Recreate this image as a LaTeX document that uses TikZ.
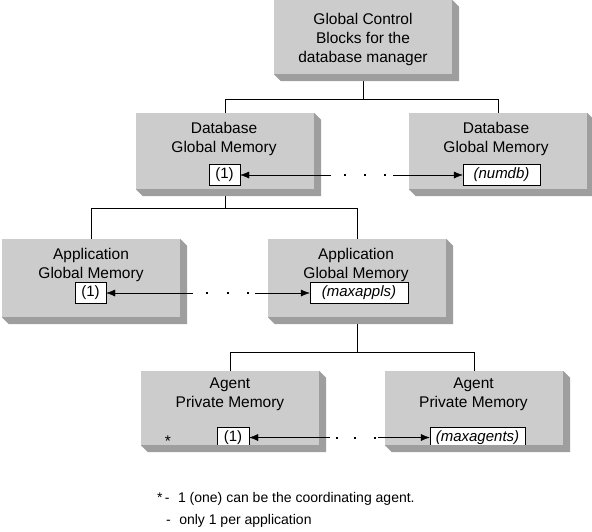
\documentclass[tikz,border=0pt]{standalone}
\usepackage{fontspec}
\setmainfont{Liberation Sans}
\usetikzlibrary{arrows.meta}
\begin{document}
\begin{tikzpicture}[x=1pt,y=-1pt,
    memblock/.style={shape=rectangle,fill=black!20,minimum width=178pt,minimum height=76pt,inner sep=0pt},
    memtext/.style={align=center,inner sep=0pt,font=\fontsize{15.5}{19}\selectfont},
    countbox/.style={shape=rectangle,draw=black,fill=white,minimum height=21pt,inner sep=1pt,font=\fontsize{15}{18}\selectfont},
    bevel/.style={fill=black!38},
    link/.style={-{Latex[length=9pt,width=7pt]}},
  ]
  \useasboundingbox (0,0) rectangle (592,531);

  \node[memblock,minimum height=74pt] (gcb) at (363,37) {};
  \node[memtext] (gcbt) at (363,39) {Global Control\\Blocks for the\\database manager};

  \node[memblock] (db1) at (225,151) {};
  \node[memtext] (db1t) at (224,139) {Database\\Global Memory};
  \node[countbox,minimum width=31pt] (db1n) at (224.5,175) {(1)};
  \node[memblock] (db2) at (498,151) {};
  \node[memtext] (db2t) at (496,139) {Database\\Global Memory};
  \node[countbox,minimum width=77pt] (db2n) at (501.5,175) {\itshape (numdb)};

  \node[memblock,minimum height=78pt] (app1) at (91,278) {};
  \node[memtext] (app1t) at (91,265) {Application\\Global Memory};
  \node[countbox,minimum width=31pt] (app1n) at (90.5,293) {(1)};
  \node[memblock,minimum height=78pt] (app2) at (357,278) {};
  \node[memtext] (app2t) at (356,265) {Application\\Global Memory};
  \node[countbox,minimum width=98pt] (app2n) at (359,293) {\itshape (maxappls)};

  \node[memblock,minimum height=74pt] (ag1) at (230,408) {};
  \node[memtext] (ag1t) at (230,394) {Agent\\Private Memory};
  \node[countbox,minimum width=32pt] (ag1n) at (233,437.5) {(1)};
  \node[memtext] (ag1s) at (168,441) {*};
  \node[memblock,minimum height=74pt] (ag2) at (474,408) {};
  \node[memtext] (ag2t) at (473.5,394) {Agent\\Private Memory};
  \node[countbox,minimum width=95pt] (ag2n) at (477.5,437.5) {\itshape (maxagents)};

  % tree lines
  \draw (gcb.south) -- ++(0,25) coordinate (j1);
  \draw (db1.north) |- (j1) -| (db2.north);
  \draw (db1.south) -- ++(0,19) coordinate (j2);
  \draw (app1.north) |- (j2) -| (app2.north);
  \draw (app2.south) -- ++(0,35) coordinate (j3);
  \draw (ag1.north) |- (j3) -| (ag2.north);

  % bevelled edges
  \foreach \b in {gcb,db1,db2,app1,app2,ag1,ag2}
    \fill[bevel] (\b.north east) -- ++(7,7) -- ([shift={(7,7)}]\b.south east)
      -- ([shift={(7,7)}]\b.south west) -- (\b.south west) -- (\b.south east) -- cycle;

  % counts
  \coordinate (db1g) at (331,175);
  \coordinate (db2g) at (393,175);
  \draw[link] (db1g) -- (db1n);
  \draw[link] (db2g) -- (db2n);
  \foreach \x in {345,365,385} \fill (\x-1,174) rectangle ++(2.2,2.2);

  \coordinate (app1g) at (193,293);
  \coordinate (app2g) at (255,293);
  \draw[link] (app1g) -- (app1n);
  \draw[link] (app2g) -- (app2n);
  \foreach \x in {207,228,248} \fill (\x-1,292) rectangle ++(2.2,2.2);

  \coordinate (ag1g) at (330,437.5);
  \coordinate (ag2g) at (378,437.5);
  \draw[link] (ag1g) -- (ag1n);
  \draw[link] (ag2g) -- (ag2n);
  \foreach \x in {337,355,375} \fill (\x-1,436.5) rectangle ++(2.2,2.2);

  \node[anchor=base west,inner sep=0pt,font=\fontsize{14}{18}\selectfont] (note1) at (157,502) {*\,-\hspace{0.6em}1 (one) can be the coordinating agent.};
  \node[anchor=base west,inner sep=0pt,font=\fontsize{14}{18}\selectfont] (note2) at (166,524) {-\hspace{0.6em}only 1 per application};
\end{tikzpicture}
\end{document}
